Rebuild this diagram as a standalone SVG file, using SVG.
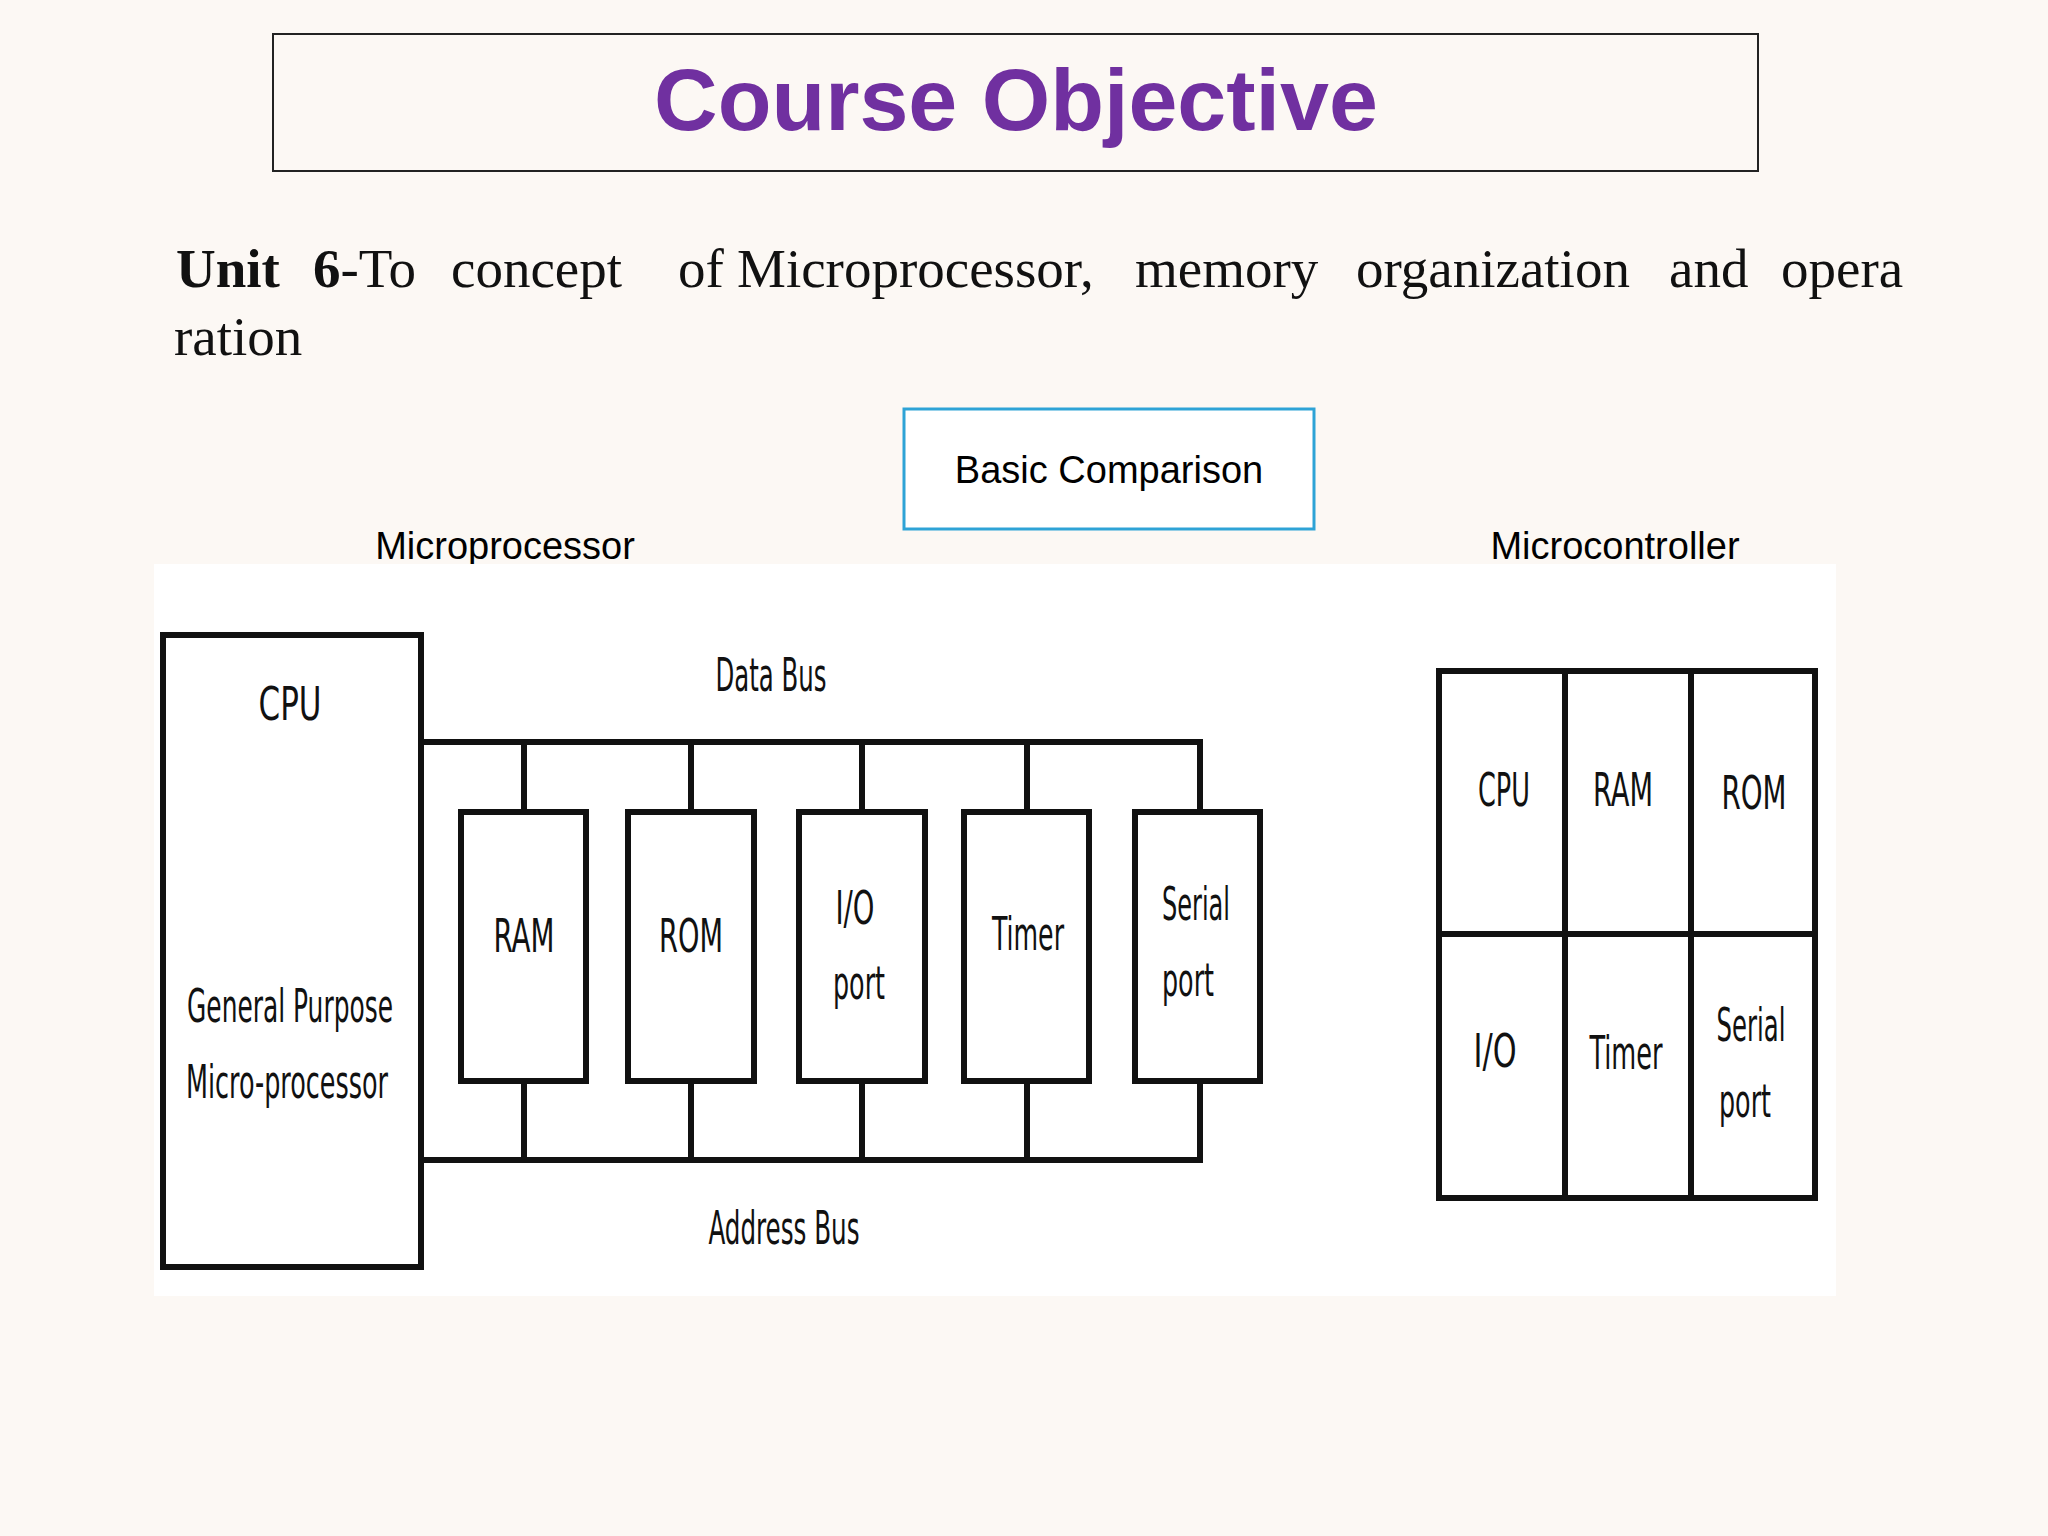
<svg xmlns="http://www.w3.org/2000/svg" width="2048" height="1536" viewBox="0 0 2048 1536">
<style>
.n{font-family:"Liberation Sans Narrow","DejaVu Sans Condensed","Liberation Sans",sans-serif;font-size:46px;fill:#111;text-anchor:middle}
.b{fill:#fff;stroke:#111;stroke-width:6}
.l{font-family:"Liberation Sans",Arial,sans-serif;font-size:38px;fill:#000;text-anchor:middle}
</style>
<rect width="2048" height="1536" fill="#fcf8f4"/>
<g id="title"><rect x="273" y="34" width="1485" height="137" fill="none" stroke="#222" stroke-width="2"/>
<text x="1016" y="130" font-family="Liberation Sans,Arial,sans-serif" font-weight="bold" font-size="88" fill="#7030a0" text-anchor="middle">Course Objective</text></g>
<g id="unit" font-family="Liberation Serif,Times New Roman,serif" font-size="55" fill="#111">
<text x="176" y="287" font-weight="bold">Unit</text>
<text x="313" y="287"><tspan font-weight="bold">6</tspan>-To</text>
<text x="451" y="287">concept</text>
<text x="678" y="287">of</text>
<text x="737" y="287">Microprocessor,</text>
<text x="1135" y="287">memory</text>
<text x="1356" y="287">organization</text>
<text x="1669" y="287">and</text>
<text x="1781" y="287">opera</text>
<text x="174" y="355">ration</text></g>
<g id="basic"><rect x="904" y="409" width="410" height="120" fill="#fff" stroke="#2ea3d6" stroke-width="3"/><text class="l" x="1109" y="483">Basic Comparison</text></g>
<text class="l" x="505" y="559">Microprocessor</text>
<text class="l" x="1615" y="559">Microcontroller</text>
<rect x="154" y="564" width="1682" height="732" fill="#fff"/>
<g id="connectors" stroke="#111" stroke-width="6" fill="none">
<path d="M421 742H1200V812M524 742V812M691 742V812M862 742V812M1027 742V812"/>
<path d="M421 1160H1200V1081M524 1160V1081M691 1160V1081M862 1160V1081M1027 1160V1081"/>
</g>
<g id="cpu"><rect class="b" x="163" y="635" width="258" height="632"/>
<text class="n" x="290" y="720" textLength="63" lengthAdjust="spacingAndGlyphs">CPU</text>
<text class="n" x="290" y="1022" textLength="206" lengthAdjust="spacingAndGlyphs">General Purpose</text>
<text class="n" x="287" y="1098" textLength="202" lengthAdjust="spacingAndGlyphs">Micro-processor</text></g>
<g id="ram"><rect class="b" x="461" y="812" width="125" height="269"/><text class="n" x="524" y="952" textLength="61" lengthAdjust="spacingAndGlyphs">RAM</text></g>
<g id="rom"><rect class="b" x="628" y="812" width="126" height="269"/><text class="n" x="691" y="952" textLength="64" lengthAdjust="spacingAndGlyphs">ROM</text></g>
<g id="io"><rect class="b" x="799" y="812" width="126" height="269"/><text class="n" x="855" y="924" textLength="39" lengthAdjust="spacingAndGlyphs">I/O</text><text class="n" x="859" y="999" textLength="52" lengthAdjust="spacingAndGlyphs">port</text></g>
<g id="timer"><rect class="b" x="964" y="812" width="125" height="269"/><text class="n" x="1028" y="950" textLength="72" lengthAdjust="spacingAndGlyphs">Timer</text></g>
<g id="serial"><rect class="b" x="1135" y="812" width="125" height="269"/><text class="n" x="1196" y="920" textLength="68" lengthAdjust="spacingAndGlyphs">Serial</text><text class="n" x="1188" y="996" textLength="52" lengthAdjust="spacingAndGlyphs">port</text></g>
<text class="n" x="771" y="691" textLength="111" lengthAdjust="spacingAndGlyphs">Data Bus</text>
<text class="n" x="784" y="1244" textLength="151" lengthAdjust="spacingAndGlyphs">Address Bus</text>
<g id="mc"><rect class="b" x="1439" y="671" width="376" height="527"/>
<path d="M1565 671V1198M1691 671V1198M1439 934H1815" stroke="#111" stroke-width="6"/>
<text class="n" x="1504" y="806" textLength="52" lengthAdjust="spacingAndGlyphs">CPU</text>
<text class="n" x="1623" y="806" textLength="60" lengthAdjust="spacingAndGlyphs">RAM</text>
<text class="n" x="1754" y="809" textLength="65" lengthAdjust="spacingAndGlyphs">ROM</text>
<text class="n" x="1495" y="1067" textLength="43" lengthAdjust="spacingAndGlyphs">I/O</text>
<text class="n" x="1626" y="1069" textLength="73" lengthAdjust="spacingAndGlyphs">Timer</text>
<text class="n" x="1751" y="1041" textLength="69" lengthAdjust="spacingAndGlyphs">Serial</text>
<text class="n" x="1745" y="1117" textLength="52" lengthAdjust="spacingAndGlyphs">port</text></g>
</svg>
